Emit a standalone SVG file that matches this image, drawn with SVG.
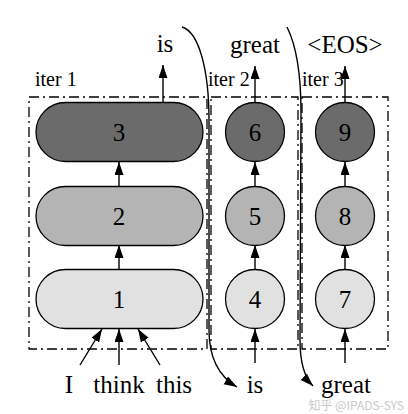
<svg xmlns="http://www.w3.org/2000/svg" width="408" height="414" viewBox="0 0 408 414">
<style>
.t{font-family:"Liberation Serif","Times New Roman",serif;fill:#000;text-anchor:middle}
.w{font-size:25px}
.n{font-size:25px}
.it{font-size:20px;text-anchor:start}
.box{fill:none;stroke:#000;stroke-width:1.3;stroke-dasharray:10 4 2 4}
.node{stroke:#000;stroke-width:1.3}
.d{fill:#6b6b6b}.m{fill:#b4b4b4}.l{fill:#e1e1e1}
.c{fill:none;stroke:#000;stroke-width:1.4}
</style>
<defs>
<marker id="ah" markerUnits="userSpaceOnUse" markerWidth="14" markerHeight="10" refX="13" refY="4.5" orient="auto">
<path d="M0,0 L13,4.5 L0,9 z" fill="#000"/>
</marker>
</defs>
<rect width="408" height="414" fill="#fff"/>
<g id="frames">
<rect class="box" x="29" y="97" width="178" height="252"/>
<rect class="box" x="211" y="97" width="87" height="252"/>
<rect class="box" x="302" y="97" width="86" height="252"/>
<text class="t it" x="35" y="86">iter 1</text>
<text class="t it" x="208" y="86">iter 2</text>
<text class="t it" x="302" y="86">iter 3</text>
</g>
<g id="connectors">
<path class="c" d="M163,102 L163,65" marker-end="url(#ah)"/>
<path class="c" d="M255,103 L255,66" marker-end="url(#ah)"/>
<path class="c" d="M345,103 L345,66" marker-end="url(#ah)"/>
<path class="c" d="M119,186 L119,162" marker-end="url(#ah)"/>
<path class="c" d="M119,269 L119,245" marker-end="url(#ah)"/>
<path class="c" d="M255,186 L255,162" marker-end="url(#ah)"/>
<path class="c" d="M255,269 L255,245" marker-end="url(#ah)"/>
<path class="c" d="M345,186 L345,162" marker-end="url(#ah)"/>
<path class="c" d="M345,269 L345,245" marker-end="url(#ah)"/>
<path class="c" d="M80,365 L102,329" marker-end="url(#ah)"/>
<path class="c" d="M119,365 L119,329" marker-end="url(#ah)"/>
<path class="c" d="M160,365 L138,329" marker-end="url(#ah)"/>
<path class="c" d="M255,363 L255,329" marker-end="url(#ah)"/>
<path class="c" d="M345,363 L345,329" marker-end="url(#ah)"/>
<path class="c" d="M182,27 C199,32 209,70 209,120 L209,330 C209,358 220,377 237,387" marker-end="url(#ah)"/>
<path class="c" d="M287,27 C296,45 301,72 301,112 L300,340 C300,362 304,377 313,386" marker-end="url(#ah)"/>
</g>
<g id="n3"><rect class="node d" x="36" y="102.5" width="167" height="59" rx="29.5"/><text class="t n" x="119" y="141">3</text></g>
<g id="n2"><rect class="node m" x="36" y="186.5" width="167" height="59" rx="29.5"/><text class="t n" x="119" y="225">2</text></g>
<g id="n1"><rect class="node l" x="36" y="269.5" width="167" height="59" rx="29.5"/><text class="t n" x="119" y="308">1</text></g>
<g id="n6"><circle class="node d" cx="255" cy="132" r="29.5"/><text class="t n" x="255" y="141">6</text></g>
<g id="n5"><circle class="node m" cx="255" cy="216" r="29.5"/><text class="t n" x="255" y="225">5</text></g>
<g id="n4"><circle class="node l" cx="255" cy="299" r="29.5"/><text class="t n" x="255" y="308">4</text></g>
<g id="n9"><circle class="node d" cx="345" cy="132" r="29.5"/><text class="t n" x="345" y="141">9</text></g>
<g id="n8"><circle class="node m" cx="345" cy="216" r="29.5"/><text class="t n" x="345" y="225">8</text></g>
<g id="n7"><circle class="node l" cx="345" cy="299" r="29.5"/><text class="t n" x="345" y="308">7</text></g>
<g id="labels">
<text class="t w" x="165" y="52">is</text>
<text class="t w" x="255" y="53">great</text>
<text class="t w" x="345" y="53">&lt;EOS&gt;</text>
<text class="t w" x="69" y="393">I</text>
<text class="t w" x="119" y="393">think</text>
<text class="t w" x="174" y="393">this</text>
<text class="t w" x="255" y="393">is</text>
<text class="t w" x="346" y="393">great</text>
<text x="404" y="410" text-anchor="end" font-family="Noto Sans CJK SC, sans-serif" font-size="12" fill="#c9c9c9">知乎 @IPADS-SYS</text>
</g>
</svg>
